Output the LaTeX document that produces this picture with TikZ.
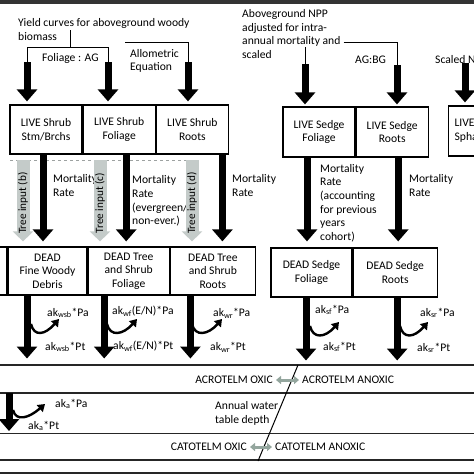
\documentclass[tikz,border=0pt]{standalone}
\usepackage{fontspec}
\setmainfont{Carlito}
\usepackage{tikz}
\usetikzlibrary{positioning, arrows.meta}
\definecolor{treegray}{RGB}{196,203,201}
\definecolor{swapgray}{RGB}{148,166,158}
\newcommand{\boxfont}{\fontsize{11.6}{13.6}\selectfont}
\newcommand{\treefont}{\fontsize{11.2}{12}\selectfont}
\tikzstyle{livebox} = [rectangle, minimum width=72pt, minimum height=49pt, inner sep=1pt, text centered, align=center, draw=black, line width=1.2pt]
\tikzstyle{deadbox} = [rectangle, minimum height=48pt, inner sep=1pt, text centered, align=center, draw=black, line width=1.2pt]
\tikzstyle{lbl} = [inner sep=0pt, align=left, anchor=west]
\tikzstyle{bigarrow} = [line width=7pt, -{Triangle[width=20pt,length=12pt]}, black]
\tikzstyle{treearrow} = [line width=13pt, -{Triangle[width=20pt,length=10pt]}, treegray]
\tikzstyle{decarrow} = [line width=2.4pt, -{Triangle[width=9pt,length=7pt]}, black]
\tikzstyle{swaparrow} = [line width=3pt, {Triangle[width=8pt,length=5pt]}-{Triangle[width=8pt,length=5pt]}, swapgray]
\tikzstyle{bracket} = [line width=0.8pt, black]
\tikzstyle{layer} = [line width=1.5pt, black!85]

\begin{document}
\begin{tikzpicture}[x=1pt, y=-1pt, font=\boxfont]

        \useasboundingbox (0,0) rectangle (474,474);
        \fill[white] (0,0) rectangle (474,474);
        \clip (0,0) rectangle (474,474);
        \fill[black!80] (0,0) rectangle (474,3.5);
        \fill[black!85] (0,472) rectangle (474,474);

        % Compartiments vivants (arbustes)
        \node (liveStem) [livebox] at (46,129.5) {LIVE Shrub\\Stm/Brchs};
        \node (liveFol) [livebox, right=0pt of liveStem] {LIVE Shrub\\Foliage};
        \node (liveRoot) [livebox, right=0pt of liveFol] {LIVE Shrub\\Roots};

        % Compartiments vivants (laiches, sphaigne)
        \node (liveSedgeFol) [livebox, minimum height=50pt] at (319,132) {LIVE Sedge\\Foliage};
        \node (liveSedgeRoot) [livebox, minimum height=50pt, right=0pt of liveSedgeFol] {LIVE Sedge\\Roots};
        \node (liveSph) [livebox, minimum height=50pt, text width=60pt, inner xsep=6pt, align=left, anchor=west] at (448,131) {LIVE\\Sphagnum};

        % Compartiments morts
        \node (deadLeft) [deadbox, minimum width=40pt, anchor=east] at (7,271) {};
        \node (deadWsb) [deadbox, minimum width=79pt] at (47.5,271) {DEAD\\Fine Woody\\Debris};
        \node (deadTsf) [deadbox, minimum width=81pt, right=0pt of deadWsb] {DEAD Tree\\and Shrub\\Foliage};
        \node (deadTsr) [deadbox, minimum width=85pt, right=0pt of deadTsf] {DEAD Tree\\and Shrub\\Roots};
        \node (deadSedgeFol) [deadbox, minimum width=81pt, minimum height=49pt] at (311.5,272.5) {DEAD Sedge\\Foliage};
        \node (deadSedgeRoot) [deadbox, minimum width=84pt, minimum height=49pt, right=0pt of deadSedgeFol] {DEAD Sedge\\Roots};

        % Textes d'entree
        \node (yieldText) [lbl] at (18,29.5) {Yield curves for aboveground woody\\biomass};
        \node (folAgText) [lbl] at (42,58) {Foliage : AG};
        \node (alloText) [lbl] at (130,61) {Allometric\\Equation};
        \node (nppText) [lbl] at (242,34) {Aboveground NPP\\adjusted for intra-\\annual mortality and\\scaled};
        \node (agbgText) [lbl] at (355,60) {AG:BG};
        \node (sphText) [lbl] at (435,60) {Scaled NPP};

        % Taux de mortalite
        \node (mortStem) [lbl] at (53,185.5) {Mortality\\Rate};
        \node (mortFol) [lbl] at (132,201) {Mortality\\Rate\\(evergreen/\\non-ever.)};
        \node (mortRoot) [lbl] at (232,185.5) {Mortality\\Rate};
        \node (mortSedgeFol) [lbl] at (320,203) {Mortality\\Rate\\(accounting\\for previous\\years\\cohort)};
        \node (mortSedgeRoot) [lbl] at (409,185.5) {Mortality\\Rate};

        % Decomposition
        \node (wsbPa) [lbl] at (47,313) {ak\textsubscript{wsb}*Pa};
        \node (wsbPt) [lbl] at (45,347) {ak\textsubscript{wsb}*Pt};
        \node (wfPa) [lbl] at (112,311) {ak\textsubscript{wf}(E/N)*Pa};
        \node (wfPt) [lbl] at (113,346) {ak\textsubscript{wf}(E/N)*Pt};
        \node (wrPa) [lbl] at (213,313) {ak\textsubscript{wr}*Pa};
        \node (wrPt) [lbl] at (210,347) {ak\textsubscript{wr}*Pt};
        \node (sfPa) [lbl] at (315,310) {ak\textsubscript{sf}*Pa};
        \node (sfPt) [lbl] at (323,347) {ak\textsubscript{sf}*Pt};
        \node (srPa) [lbl] at (420,313) {ak\textsubscript{sr}*Pa};
        \node (srPt) [lbl] at (417,348) {ak\textsubscript{sr}*Pt};
        \node (aPa) [lbl] at (55,404) {ak\textsubscript{a}*Pa};
        \node (aPt) [lbl] at (28,426) {ak\textsubscript{a}*Pt};

        % Couches de tourbe
        \node (acroOxic) [inner sep=3pt, anchor=east] at (276,380) {ACROTELM OXIC};
        \node (acroAnoxic) [inner sep=3pt, anchor=west] at (299,380) {ACROTELM ANOXIC};
        \node (wtText) [lbl] at (215,413.5) {Annual water\\table depth};
        \node (cataOxic) [inner sep=3pt, anchor=east] at (250,447) {CATOTELM OXIC};
        \node (cataAnoxic) [inner sep=3pt, anchor=west] at (272,447) {CATOTELM ANOXIC};

        \coordinate (acroTop) at (0,364.5);
        \coordinate (acroBot) at (0,393);
        \coordinate (cataTop) at (0,433.5);
        \coordinate (cataBot) at (0,460);
        \coordinate (wtTop) at (298,365);
        \coordinate (wtBot) at (258,461);

        \draw [layer, line width=2pt] (acroTop) -- ++(474,0);
        \draw [layer] (acroBot) -- ++(474,0);
        \draw [layer] (cataTop) -- ++(474,0);
        \draw [layer] (cataBot) -- ++(474,0);
        \draw [line width=1pt] (wtTop) -- (wtBot);
        \draw [swaparrow] (acroOxic) -- (acroAnoxic);
        \draw [swaparrow] (cataOxic) -- (cataAnoxic);

        % Accolades d'entree
        \coordinate (yieldMid) at (70,47);
        \coordinate (stemArrow) at (27,62);
        \coordinate (folArrow) at (108,62);
        \coordinate (rootArrow) at (188,62);
        \coordinate (sedgeFolArrow) at (305,64);
        \coordinate (sedgeRootArrow) at (397,65);
        \coordinate (sphArrow) at (465,63);

        \draw [bracket] (yieldMid) -- ++(0,-17);
        \draw [bracket] (stemArrow) -- (stemArrow |- yieldMid) -- (folArrow |- yieldMid) -- (folArrow);
        \draw [bracket] (125,42) -| (rootArrow);
        \draw [bracket] ([xshift=3pt]nppText.east |- 0,42) -| (sedgeRootArrow);
        \draw [bracket] (sedgeFolArrow) -- ++(0,-17);

        % Fleches d'entree
        \draw [bigarrow, shorten >=3pt] (stemArrow) -- (stemArrow |- liveStem.north);
        \draw [bigarrow, shorten >=3pt] (folArrow) -- (folArrow |- liveFol.north);
        \draw [bigarrow, shorten >=3pt] (rootArrow) -- (rootArrow |- liveRoot.north);
        \draw [bigarrow, shorten >=2pt] (sedgeFolArrow) -- (sedgeFolArrow |- liveSedgeFol.north);
        \draw [bigarrow, shorten >=2pt] (sedgeRootArrow) -- (sedgeRootArrow |- liveSedgeRoot.north);
        \draw [bigarrow, shorten >=3pt] (sphArrow) -- (sphArrow |- liveSph.north);

        % Apports des arbres
        \coordinate (dashStart) at (10,160);
        \coordinate (dashEnd) at (193,160);
        \draw [treegray!80!black, dashed, line width=0.9pt] (dashStart) -- (dashEnd);
        \coordinate (treeB) at (23,160);
        \coordinate (treeC) at (100,160);
        \coordinate (treeD) at (192,160);
        \draw [treearrow, shorten >=5pt] (treeB) -- (treeB |- deadWsb.north) node[midway, rotate=90, black, font=\treefont]{Tree input (b)};
        \draw [treearrow, shorten >=5pt] (treeC) -- (treeC |- deadTsf.north) node[midway, rotate=90, black, font=\treefont]{Tree input (c)};
        \draw [treearrow, shorten >=5pt] (treeD) -- (treeD |- deadTsr.north) node[midway, rotate=90, black, font=\treefont]{Tree input (d)};

        % Fleches de mortalite
        \draw [bigarrow, shorten >=5pt] ([xshift=-3pt]liveStem.south) -- ([xshift=-3pt]liveStem.south |- deadWsb.north);
        \draw [bigarrow, shorten >=5pt] ([xshift=7pt]liveFol.south) -- ([xshift=7pt]liveFol.south |- deadTsf.north);
        \draw [bigarrow, shorten >=5pt] ([xshift=30pt]liveRoot.south) -- ([xshift=30pt]liveRoot.south |- deadTsr.north);
        \draw [bigarrow, shorten >=6pt] ([xshift=-12pt]liveSedgeFol.south) -- ([xshift=-12pt]liveSedgeFol.south |- deadSedgeFol.north);
        \draw [bigarrow, shorten >=6pt] ([xshift=6pt]liveSedgeRoot.south) -- ([xshift=6pt]liveSedgeRoot.south |- deadSedgeRoot.north);

        % Fleches de decomposition
        \draw [bigarrow, shorten >=6pt] ([xshift=-20.5pt]deadWsb.south) -- ([xshift=-20.5pt]deadWsb.south |- acroTop);
        \draw [bigarrow, shorten >=6pt] ([xshift=-24.5pt]deadTsf.south) -- ([xshift=-24.5pt]deadTsf.south |- acroTop);
        \draw [bigarrow, shorten >=6pt] ([xshift=-22.5pt]deadTsr.south) -- ([xshift=-22.5pt]deadTsr.south |- acroTop);
        \draw [bigarrow, shorten >=4pt] ([xshift=-5.5pt]deadSedgeFol.south) -- ([xshift=-5.5pt]deadSedgeFol.south |- acroTop);
        \draw [bigarrow, shorten >=4pt] ([xshift=2pt]deadSedgeRoot.south) -- ([xshift=2pt]deadSedgeRoot.south |- acroTop);
        \coordinate (akaTop) at (9,393);
        \coordinate (akaBot) at (9,431);
        \draw [bigarrow] (akaTop) -- (akaBot);

        % Pertes aerobies
        \coordinate (wsbFork) at (31,324);
        \coordinate (wsbEnd) at (59,319);
        \coordinate (wfFork) at (107,324);
        \coordinate (wfEnd) at (137,319);
        \coordinate (wrFork) at (192,324);
        \coordinate (wrEnd) at (222,319);
        \coordinate (sfFork) at (310,326);
        \coordinate (sfEnd) at (339,322);
        \coordinate (srFork) at (400,326);
        \coordinate (srEnd) at (428,322);
        \coordinate (aFork) at (13,410);
        \coordinate (aEnd) at (45,404);
        \draw [decarrow] (wsbFork) .. controls +(3,13) and +(-14,16) .. (wsbEnd);
        \draw [decarrow] (wfFork) .. controls +(3,13) and +(-14,16) .. (wfEnd);
        \draw [decarrow] (wrFork) .. controls +(3,13) and +(-14,16) .. (wrEnd);
        \draw [decarrow] (sfFork) .. controls +(3,13) and +(-14,16) .. (sfEnd);
        \draw [decarrow] (srFork) .. controls +(3,13) and +(-14,16) .. (srEnd);
        \draw [decarrow] (aFork) .. controls +(3,12) and +(-16,14) .. (aEnd);

    \end{tikzpicture}
\end{document}
